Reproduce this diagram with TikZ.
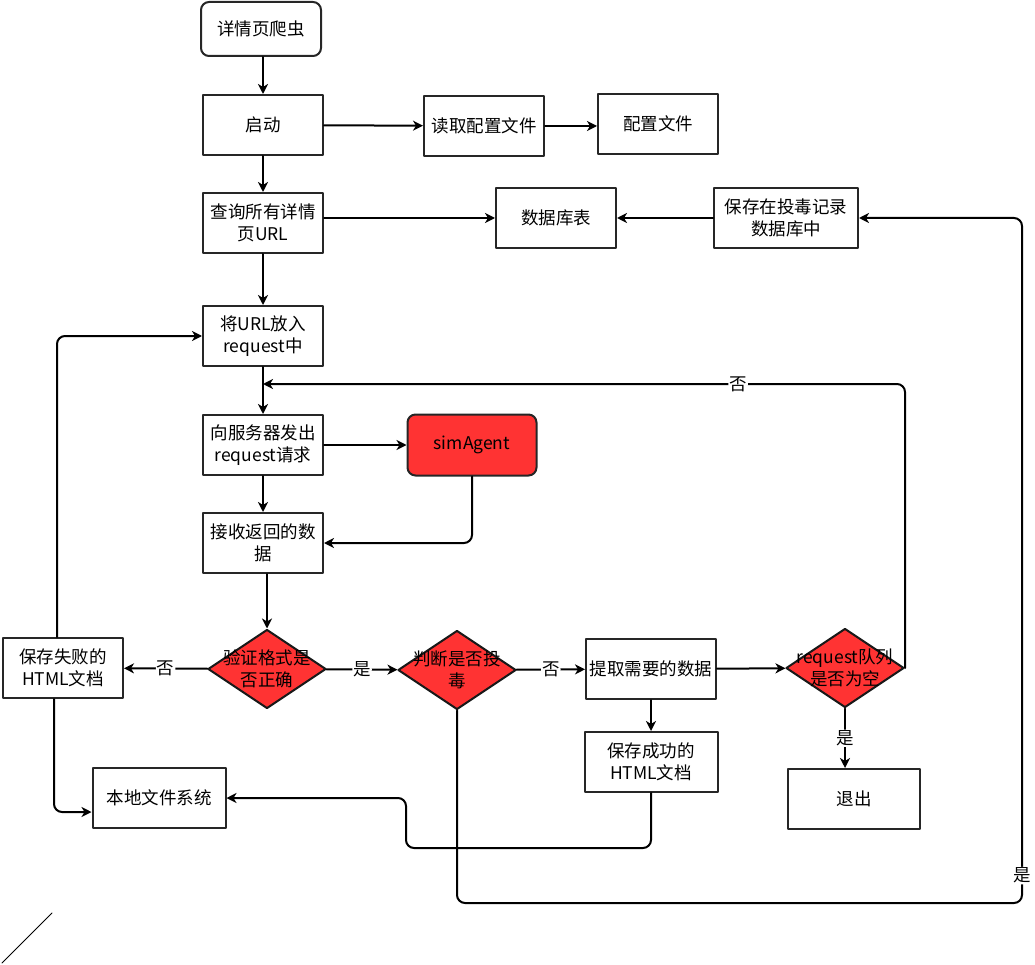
\documentclass[tikz,border=0pt]{standalone}
\usepackage{fontspec}
\newfontfamily\cjk{Noto Sans CJK SC}
\usetikzlibrary{arrows, arrows.meta, calc, positioning, shapes.geometric}
\definecolor{alarm}{HTML}{FF3333}

\begin{document}
\begin{tikzpicture}[line cap=round,line join=round,>={Stealth[length=10pt,width=10pt,inset=3pt]},x=1pt,y=-1pt,
  every node/.style={font=\cjk\fontsize{17.5}{22}\selectfont, align=center},
  box/.style={draw=black!85, line width=2pt, minimum width=120, minimum height=60, inner sep=2pt},
  rbox/.style={box, rounded corners=8pt},
  dia/.style={draw=black!90, line width=2pt, fill=alarm, diamond, inner sep=0pt, minimum width=118, minimum height=79},
  flow/.style={->, line width=2pt, rounded corners=8pt},
  lbl/.style={fill=white, inner sep=1pt}]
\useasboundingbox (0,0) rectangle (1035,965);

% Main column
\node [rbox, minimum height=54] (start) at (261,29) {详情页爬虫};
\node [box] (boot) at (263,125) {启动};
\node [box] (query) at (263,223) {查询所有详情\\页URL};
\node [box] (puturl) at (263,336) {将URL放入\\request中};
\node [box] (sendreq) at (263,445) {向服务器发出\\request请求};
\node [box] (recv) at (263,543) {接收返回的数\\据};

% Config and database
\node [box] (readcfg) at (484,126) {读取配置文件};
\node [box] (cfgfile) at (658,124) {配置文件};
\node [box] (dbtable) at (556,218) {数据库表};
\node [box, minimum width=144] (savepoison) at (786,218) {保存在投毒记录\\数据库中};
\node [rbox, fill=alarm, minimum width=129, minimum height=61] (agent) at (472,445) {simAgent};

% Decisions
\node [dia, label={[align=center]center:验证格式是\\否正确}] (check) at (267,669) {};
\node [dia, label={[align=center]center:判断是否投\\毒}] (poison) at (457,670) {};
\node [dia, label={[align=center]center:request队列\\是否为空}] (empty) at (845,668) {};

% Results
\node [box] (savefail) at (63,668) {保存失败的\\HTML文档};
\node [box, minimum width=130] (extract) at (651,669) {提取需要的数据};
\node [box, minimum width=133] (saveok) at (651,762) {保存成功的\\HTML文档};
\node [box, minimum width=133] (localfs) at (159,798) {本地文件系统};
\node [box, minimum width=132] (quit) at (854,799) {退出};

\coordinate (merge) at (263,384);

% Connectors
\draw [flow] (start.south -| boot) -- (boot);
\draw [flow] (boot) -- (readcfg);
\draw [flow] (readcfg) -- (readcfg -| cfgfile.west);
\draw [flow] (boot) -- (query);
\draw [flow] (query.east |- dbtable) -- (dbtable);
\draw [flow] (savepoison) -- (dbtable);
\draw [flow] (query) -- (puturl);
\draw [flow] (puturl) -- (sendreq);
\draw [flow] (sendreq) -- (agent);
\draw [flow] (sendreq) -- (recv);
\draw [flow] (agent.south) |- (recv.east);
\draw [flow] (recv.south -| check) -- (check);
\draw [flow] (check) -- node[lbl] {否} (savefail);
\draw [flow] (check) -- node[lbl] {是} (poison);
\draw [flow] (poison) -- node[lbl] {否} (extract);
\draw [flow] (extract) -- (empty);
\draw [flow] (extract) -- (saveok);
\draw [flow] (empty) -- node[lbl] {是} (empty |- quit.north);
\draw [flow] (empty.east) |- node[lbl, pos=0.63] {否} (merge);
\draw [flow] (saveok.south) |- (406,848) |- (localfs.east);
\draw [flow] ([xshift=-9pt]savefail.south) |- ([yshift=-14pt]localfs.west);
\draw [flow] ([xshift=-6pt]savefail.north) |- (puturl.west);
\draw [flow] (poison.south) |- (1022,903) |- node[lbl, pos=0.02] {是} (savepoison.east);

% Stray stroke
\draw [line width=0.8pt] (52,913) -- (2,963);
\end{tikzpicture}
\end{document}
